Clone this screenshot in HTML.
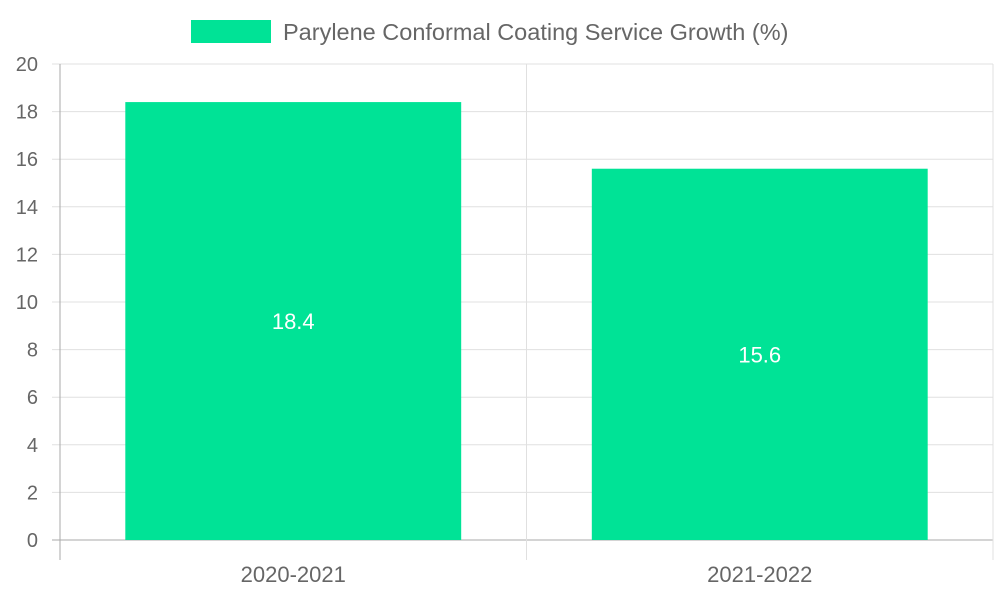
<!DOCTYPE html>
<html><head><meta charset="utf-8"><style>
html,body{margin:0;padding:0;background:#fff;}
svg{display:block;font-family:"Liberation Sans",sans-serif;}
</style></head><body>
<svg id="chart" width="1000" height="600">
<g id="grid"></g>
<g id="bars"></g>
<g id="axes"></g>
<g>
<rect x="191" y="20" width="80" height="23" fill="#00e396"></rect>
<text x="283" y="40" font-size="23.5" fill="#666">Parylene Conformal Coating Service Growth (%)</text>
</g>
</svg>
<script>
const categories = ["2020-2021", "2021-2022"];
const values = [18.4, 15.6];
const yTicks = [0, 2, 4, 6, 8, 10, 12, 14, 16, 18, 20];
const plotLeft = 60, plotRight = 993, plotTop = 64, plotBottom = 540, yMax = 20;
const ns = "http://www.w3.org/2000/svg";
const yScale = v => plotBottom - (plotBottom - plotTop) * v / yMax;
const band = (plotRight - plotLeft) / categories.length;
const xScale = i => plotLeft + band * i;
function mk(parent, tag, attrs, text) {
  const e = document.createElementNS(ns, tag);
  for (const k in attrs) e.setAttribute(k, attrs[k]);
  if (text !== undefined) e.textContent = text;
  document.getElementById(parent).appendChild(e);
  return e;
}
yTicks.forEach(t => {
  const l = mk("grid", "line", {x1: plotLeft - 8, x2: plotRight, y1: yScale(t), y2: yScale(t), stroke: t === 0 ? "#aaa" : "#e0e0e0", "stroke-width": 1});
  
  
  const tx = mk("axes", "text", {x: plotLeft - 22, y: yScale(t) + 7, "font-size": 20, fill: "#666", "text-anchor": "end"}, String(t));
  
  
});
for (let i = 0; i <= categories.length; i++) {
  const l = mk("grid", "line", {x1: xScale(i), x2: xScale(i), y1: plotTop, y2: plotBottom + 20, stroke: i === 0 ? "#aaa" : "#e0e0e0", "stroke-width": 1});
  
  
}
categories.forEach((c, i) => {
  const bw = band * 0.72;
  const bx = xScale(i) + (band - bw) / 2;
  const r = mk("bars", "rect", {x: bx, y: yScale(values[i]), width: bw, height: plotBottom - yScale(values[i]), fill: "#00e396"});
  
  
  const v = mk("bars", "text", {x: xScale(i) + band / 2, y: (yScale(values[i]) + plotBottom) / 2 + 8, "font-size": 22, fill: "#fff", "text-anchor": "middle"}, String(values[i]));
  
  
  const lb = mk("axes", "text", {x: xScale(i) + band / 2, y: 582, "font-size": 22, fill: "#666", "text-anchor": "middle"}, c);
  
  
});
</script>
</body></html>
